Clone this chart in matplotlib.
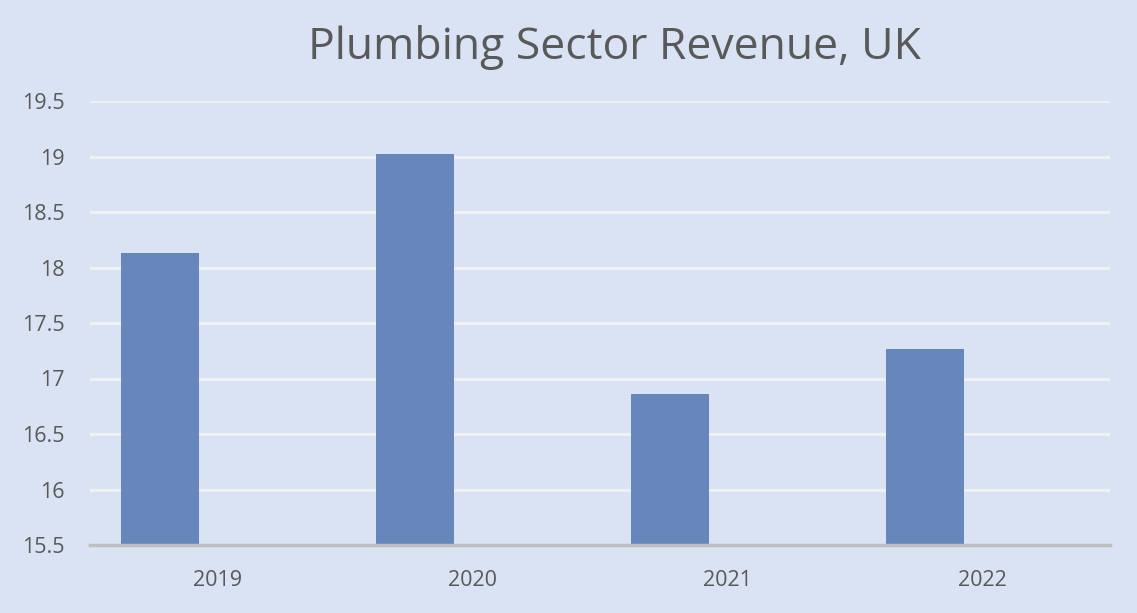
import matplotlib
matplotlib.use("Agg")
import matplotlib.pyplot as plt
import numpy as np

years = ["2019", "2020", "2021", "2022"]
revenue = [18.13, 19.02, 16.86, 17.27]

BG = "#DAE3F3"
BAR = "#6787BC"
TXT = "#595959"

fig = plt.figure(figsize=(11.37, 6.13), dpi=100, facecolor=BG)
ax = fig.add_axes([90 / 1137, (613 - 545) / 613, 1020 / 1137, 444 / 613], facecolor=BG)

x = np.arange(len(years))
ax.bar(x - 0.2255, revenue, width=0.306, color=BAR, zorder=3)

ax.set_xlim(-0.5, len(years) - 0.5)
ax.set_ylim(15.5, 19.5)
yt = np.arange(15.5, 19.51, 0.5)
ax.set_yticks(yt)
ax.set_yticklabels([f"{v:g}" for v in yt])
ax.set_xticks(x)
ax.set_xticklabels(years)
ax.grid(axis="y", color="#F2F2F2", lw=2, zorder=1)
for s in ("top", "right", "left"):
    ax.spines[s].set_visible(False)
ax.spines["bottom"].set_color("#BFBFBF")
ax.spines["bottom"].set_linewidth(2.5)
ax.spines["bottom"].set_zorder(4)
ax.tick_params(axis="both", length=0, labelsize=15.5, colors=TXT, labelfontfamily="Open Sans")
ax.tick_params(axis="y", pad=18)
ax.tick_params(axis="x", pad=18)

fig.text(615 / 1137, 1 - 47 / 613, "Plumbing Sector Revenue, UK", ha="center", va="center",
         fontsize=32, color=TXT, family="Open Sans")

fig.savefig("out.png", dpi=100, facecolor=BG)
